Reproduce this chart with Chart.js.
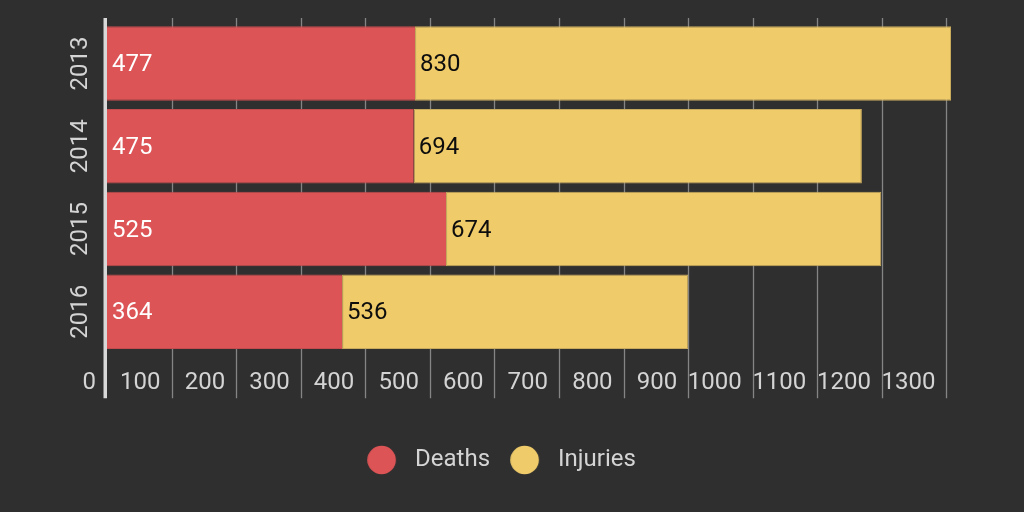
<!DOCTYPE html>
<html><head><meta charset="utf-8">
<script src="https://cdn.jsdelivr.net/npm/chart.js@4"></script>
<style>html,body{margin:0;padding:0;background:#2f2f2f;}</style>
</head><body>
<canvas id="c" width="1024" height="512"></canvas>
<script>
const categories = ['2013', '2014', '2015', '2016'];
const deaths = [477, 475, 525, 364];
const injuries = [830, 694, 674, 536];
const seriesNames = ['Deaths', 'Injuries'];
const xTickValues = [0, 100, 200, 300, 400, 500, 600, 700, 800, 900, 1000, 1100, 1200, 1300];

const totals = categories.map((_, i) => deaths[i] + injuries[i]);
const xMax = Math.max(...totals);

const TEXT = '#d4d4d4';
const FONT = { family: 'Roboto', size: 24 };

function marker(color) {
  const c = document.createElement('canvas');
  c.width = 36; c.height = 30;
  const g = c.getContext('2d');
  g.fillStyle = color;
  g.beginPath(); g.arc(14.5, 15, 14.3, 0, Math.PI * 2); g.fill();
  return c;
}

const bgPlugin = {
  id: 'bg',
  beforeDraw(chart) {
    const ctx = chart.ctx;
    ctx.save(); ctx.fillStyle = '#2f2f2f';
    ctx.fillRect(0, 0, chart.width, chart.height); ctx.restore();
  }
};

const gridPlugin = {
  id: 'customGrid',
  beforeDatasetsDraw(chart) {
    const { ctx, chartArea: a, scales: { x } } = chart;
    ctx.save();
    ctx.strokeStyle = '#858585'; ctx.lineWidth = 1.3;
    x.ticks.forEach(t => {
      if (t.value === 0) return;
      const px = Math.round(x.getPixelForValue(t.value)) + 0.5;
      ctx.beginPath(); ctx.moveTo(px, a.top - 4); ctx.lineTo(px, a.bottom + 45); ctx.stroke();
    });
    ctx.restore();
  },
  afterDatasetsDraw(chart) {
    const { ctx, chartArea: a, scales: { x } } = chart;
    ctx.save();
    ctx.strokeStyle = '#d8d8d8'; ctx.lineWidth = 3.5;
    const px = x.getPixelForValue(0) - 1.75;
    ctx.beginPath(); ctx.moveTo(px, a.top - 4); ctx.lineTo(px, a.bottom + 45); ctx.stroke();
    ctx.restore();
  }
};

const labelPlugin = {
  id: 'barLabels',
  afterDatasetsDraw(chart) {
    const ctx = chart.ctx;
    const colors = ['#ffffff', '#0d0d0d'];
    ctx.save();
    ctx.font = '24px Roboto';
    ctx.textAlign = 'left'; ctx.textBaseline = 'middle';
    chart.data.datasets.forEach((ds, i) => {
      const meta = chart.getDatasetMeta(i);
      ctx.fillStyle = colors[i];
      meta.data.forEach((bar, j) => {
        const start = Math.min(bar.base, bar.x);
        ctx.fillText(String(ds.data[j]), start + 5, bar.y + 1.5);
      });
    });
    ctx.restore();
  }
};

new Chart(document.getElementById('c'), {
  type: 'bar',
  data: {
    labels: categories,
    datasets: [
      { label: seriesNames[0], data: deaths, backgroundColor: '#dc5456', borderColor: '#c44c4e',
        borderWidth: { top: 1, bottom: 1, left: 0, right: 0 } },
      { label: seriesNames[1], data: injuries, backgroundColor: '#efcb6a', borderColor: '#c9ab5e',
        borderWidth: 1, borderSkipped: false }
    ]
  },
  options: {
    indexAxis: 'y',
    responsive: false,
    animation: false,
    layout: { padding: { left: 52, right: 73, top: 22, bottom: 30 } },
    datasets: { bar: { barPercentage: 0.9, categoryPercentage: 1 } },
    scales: {
      x: {
        stacked: true, min: 0, max: xMax,
        grid: { display: false, drawTicks: false },
        border: { display: false },
        afterBuildTicks(s) { s.ticks = xTickValues.map(v => ({ value: v })); },
        ticks: {
          autoSkip: false, maxRotation: 0,
          align: 'end', labelOffset: -11, padding: 15, color: TEXT, font: FONT,
          callback: v => String(v)
        },
        afterFit(s) { s.height += 16; }
      },
      y: {
        stacked: true,
        grid: { display: false, drawTicks: false },
        border: { display: false },
        ticks: { color: TEXT, font: FONT, minRotation: 90, maxRotation: 90, crossAlign: 'center', padding: -1 },
        afterFit(s) { s.width = 55; }
      }
    },
    plugins: {
      tooltip: { enabled: false },
      legend: {
        position: 'bottom',
        labels: {
          color: TEXT, font: FONT, usePointStyle: true, pointStyleWidth: 36, boxHeight: 20, padding: 20,
          generateLabels(chart) {
            const items = Chart.defaults.plugins.legend.labels.generateLabels(chart);
            items.forEach(it => { it.pointStyle = marker(it.fillStyle); it.lineWidth = 0; });
            return items;
          }
        }
      }
    }
  },
  plugins: [bgPlugin, gridPlugin, labelPlugin]
});
</script>
</body></html>
